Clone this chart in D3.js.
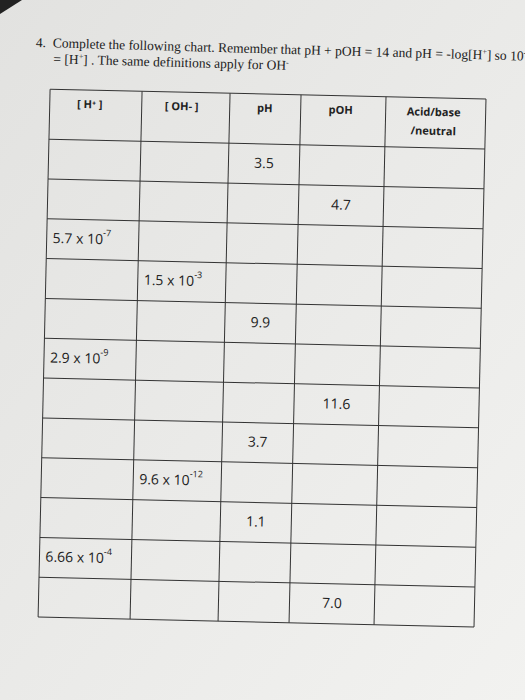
<!DOCTYPE html>
<html><head><meta charset="utf-8">
<script src="https://cdn.jsdelivr.net/npm/d3@7"></script>
<style>body{margin:0;background:#e6e6e4}</style></head>
<body><svg id="c" width="525" height="700"></svg>
<script>
// --- table contents, one array per column ---
const headers = ['[ H⁺ ]', '[ OH- ]', 'pH', 'pOH', 'Acid/base'];
const hPlus = ['', '', '5.7 x 10|-7', '', '', '2.9 x 10|-9', '', '', '', '', '6.66 x 10|-4', ''];
const ohMinus = ['', '', '', '1.5 x 10|-3', '', '', '', '', '9.6 x 10|-12', '', '', ''];
const pH = ['3.5', '', '', '', '9.9', '', '', '3.7', '', '1.1', '', ''];
const pOH = ['', '4.7', '', '', '', '', '11.6', '', '', '', '', '7.0'];
const acidBase = ['', '', '', '', '', '', '', '', '', '', '', ''];

const columns = [hPlus, ohMinus, pH, pOH, acidBase];
const svg = d3.select('#c');

// paper shading
const grad = svg.append('defs').append('linearGradient').attr('id', 'g')
  .attr('x1', 0).attr('y1', 0).attr('x2', 1).attr('y2', 1);
grad.append('stop').attr('offset', 0).attr('stop-color', '#e2e2e0');
grad.append('stop').attr('offset', 1).attr('stop-color', '#f2f2f0');
svg.append('rect').attr('width', 525).attr('height', 700).attr('fill', 'url(#g)');
svg.append('path').attr('d', 'M0,0 L22,0 L0,14 Z').attr('fill', '#222');

// instructions
const t = svg.append('g').attr('font-family', 'Liberation Serif').attr('fill', '#222')
  .attr('transform', 'rotate(1.6 40 40)');
t.append('text').attr('x', 36).attr('y', 47).attr('font-size', 13.5)
  .html('4.&#160;&#160;Complete the following chart. Remember that pH + pOH = 14 and pH = -log[H<tspan dy="-5" font-size="8">+</tspan><tspan dy="5">] so 10</tspan><tspan dy="-5" font-size="8">-pH</tspan>');
t.append('text').attr('x', 54).attr('y', 63).attr('font-size', 13.5)
  .html('= [H<tspan dy="-5" font-size="8">+</tspan><tspan dy="5">] . The same definitions apply for OH</tspan><tspan dy="-5" font-size="8">-</tspan>');

// grid scales
const x = d3.scaleOrdinal().domain(d3.range(6)).range([44, 136, 224, 295, 380, 480]);
const y = d3.scaleLinear().domain([0, 12]).range([144, 622]);
const rowsN = pH.length;

const g = svg.append('g').attr('transform', 'rotate(1.3 260 360)')
  .attr('font-family', 'Open Sans').attr('fill', '#222');

// lines
const topY = 94;
g.selectAll('line.v').data(d3.range(6)).join('line')
  .attr('x1', d => x(d)).attr('x2', d => x(d)).attr('y1', topY).attr('y2', y(rowsN))
  .attr('stroke', '#333').attr('stroke-width', 1);
g.selectAll('line.h').data([topY].concat(d3.range(rowsN + 1).map(y))).join('line')
  .attr('x1', x(0)).attr('x2', x(5)).attr('y1', d => d).attr('y2', d => d)
  .attr('stroke', '#333').attr('stroke-width', 1);

// headers
const hx = [84, 176, 259, 335, 428];
headers.forEach((h, i) => {
  g.append('text').attr('x', hx[i]).attr('y', topY + 18).attr('text-anchor', 'middle')
    .attr('font-size', 11).attr('font-weight', 'bold').text(h);
});
g.append('text').attr('x', hx[4]).attr('y', topY + 37).attr('text-anchor', 'middle')
  .attr('font-size', 11).attr('font-weight', 'bold').text('/neutral');

// cells
columns.forEach((col, ci) => {
  col.forEach((v, ri) => {
    if (!v) return;
    const [base, exp] = v.split('|');
    const tx = g.append('text').attr('font-size', 14)
      .attr('x', ci < 2 ? x(ci) + 6 : (x(ci) + x(ci + 1)) / 2)
      .attr('text-anchor', ci < 2 ? 'start' : 'middle')
      .attr('y', y(ri) + 24).text(base);
    if (exp) tx.append('tspan').attr('dy', -8).attr('font-size', 9).text(exp);
  });
});
</script></body></html>
